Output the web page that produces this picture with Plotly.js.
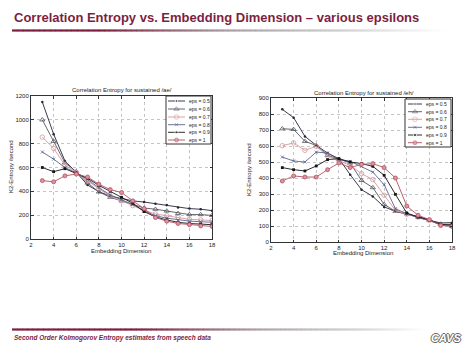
<!DOCTYPE html>
<html><head><meta charset="utf-8">
<script src="https://cdn.plot.ly/plotly-3.0.1.min.js"></script>
<style>html,body{margin:0;padding:0;background:#fff}#chart{width:474px;height:355px}</style>
</head><body><div id="chart"></div>
<script>
// ---- data ----
const dims = [3,4,5,6,7,8,9,10,11,12,13,14,15,16,17,18];
const epsLabels = ['eps = 0.5','eps = 0.6','eps = 0.7','eps = 0.8','eps = 0.9','eps = 1'];
// sustained /ae/
const ae05 = [1150, 880, 655, 560, 453, 397, 360, 340, 320, 310, 295, 285, 265, 255, 250, 238];
const ae06 = [1000, 820, 640, 565, 470, 395, 350, 320, 290, 260, 250, 235, 215, 205, 205, 198];
const ae07 = [855, 760, 620, 560, 490, 420, 360, 320, 280, 240, 210, 195, 180, 165, 160, 155];
const ae08 = [730, 670, 600, 555, 500, 430, 370, 330, 290, 235, 195, 175, 160, 150, 145, 140];
const ae09 = [600, 565, 590, 550, 510, 450, 400, 350, 300, 230, 185, 160, 140, 130, 125, 120];
const ae10 = [490, 480, 530, 545, 520, 460, 415, 390, 320, 255, 180, 150, 130, 120, 110, 105];
// sustained /eh/
const eh05 = [829, 777, 660, 604, 556, 521, 421, 327, 285, 219, 192, 173, 160, 135, 119, 121];
const eh06 = [708, 704, 629, 604, 542, 517, 494, 385, 340, 235, 192, 177, 156, 135, 110, 98];
const eh07 = [602, 619, 573, 598, 537, 510, 479, 427, 390, 292, 198, 173, 156, 135, 104, 100];
const eh08 = [531, 506, 500, 562, 556, 515, 504, 473, 437, 358, 208, 177, 152, 135, 110, 100];
const eh09 = [465, 452, 444, 475, 515, 521, 500, 490, 473, 417, 298, 181, 156, 140, 110, 110];
const eh10 = [381, 413, 406, 406, 452, 494, 465, 485, 490, 465, 400, 225, 167, 140, 104, 98];
const xTicks = [2,4,6,8,10,12,14,16,18];

// ---- styles ----
const styles = [
  {color:'#262638', marker:{symbol:'circle', size:2.5, color:'#262638'}},
  {color:'#55555f', marker:{symbol:'triangle-up-open', size:4.5, color:'#55555f', line:{width:0.8}}},
  {color:'#d39a9c', marker:{symbol:'circle-open', size:4.5, color:'#d39a9c', line:{width:0.8}}},
  {color:'#5a6390', marker:{symbol:'x-thin-open', size:3, color:'#5a6390', line:{width:0.8, color:'#5a6390'}}},
  {color:'#151515', marker:{symbol:'square', size:2.8, color:'#151515'}},
  {color:'#b3505f', marker:{symbol:'circle', size:4, color:'#dc94a0', line:{width:0.8, color:'#b3505f'}}}
];
const aeSeries = [ae05, ae06, ae07, ae08, ae09, ae10];
const ehSeries = [eh05, eh06, eh07, eh08, eh09, eh10];

const traces = [];
aeSeries.forEach((ys,i)=>traces.push({x:dims, y:ys, xaxis:'x', yaxis:'y', mode:'lines+markers', name:epsLabels[i],
  line:{color:styles[i].color, width:0.9}, marker:styles[i].marker, showlegend:false, hoverinfo:'skip'}));
ehSeries.forEach((ys,i)=>traces.push({x:dims, y:ys, xaxis:'x2', yaxis:'y2', mode:'lines+markers', name:epsLabels[i],
  line:{color:styles[i].color, width:0.9}, marker:styles[i].marker, showlegend:false, hoverinfo:'skip'}));

// custom compact legends drawn in a pixel overlay axis (x3/y3)
const legends = [
  {box:[166,211,96,144], rows:[101,109,117,124.7,132.3,140], lx:[168,185], tx:187},
  {box:[405,451,99,147], rows:[104,111.7,119.3,127.3,135,142.7], lx:[408,422], tx:424}
];
const shapes = [];
const annotations = [];
legends.forEach(L=>{
  shapes.push({type:'rect', xref:'x3', yref:'y3', x0:L.box[0], x1:L.box[1], y0:L.box[2], y1:L.box[3],
    fillcolor:'#fff', line:{color:'#333', width:1}, layer:'below'});
  epsLabels.forEach((lab,i)=>{
    const mid = (L.lx[0]+L.lx[1])/2;
    traces.push({x:[L.lx[0], mid, L.lx[1]], y:[L.rows[i],L.rows[i],L.rows[i]], xaxis:'x3', yaxis:'y3',
      mode:'lines+markers', line:{color:styles[i].color, width:0.9},
      marker:Object.assign({}, styles[i].marker, {size:[0, styles[i].marker.size, 0]}),
      showlegend:false, hoverinfo:'skip', cliponaxis:false});
    annotations.push({xref:'x3', yref:'y3', x:L.tx, y:L.rows[i], text:lab, showarrow:false,
      xanchor:'left', yanchor:'middle', font:{family:'Liberation Sans, Arial, sans-serif', size:5, color:'#222'}});
  });
});

// gradient rules
function grad(x0, x1, y, stops){
  const N = 80;
  for(let k=0;k<N;k++){
    const t = (k+0.5)/N;
    let a=stops[0], b=stops[stops.length-1];
    for(let s=0;s<stops.length-1;s++){ if(t>=stops[s][0] && t<=stops[s+1][0]){a=stops[s]; b=stops[s+1]; break;} }
    const u = (t-a[0])/((b[0]-a[0])||1);
    const c = [0,1,2].map(j=>Math.round(a[1][j]+(b[1][j]-a[1][j])*u));
    shapes.push({type:'line', xref:'x3', yref:'y3', x0:x0+(x1-x0)*k/N, x1:x0+(x1-x0)*(k+1)/N+0.5, y0:y, y1:y,
      line:{color:'rgb('+c.join(',')+')', width:2.2}, layer:'above'});
  }
}
const maroon = [125,30,62];
grad(12, 445, 30.5, [[0,maroon],[0.2,maroon],[0.5,[170,160,165]],[0.75,[205,205,205]],[1,[255,255,255]]]);
grad(12, 425, 329.5, [[0,maroon],[0.3,maroon],[0.6,[175,165,170]],[0.85,[215,215,215]],[1,[255,255,255]]]);

// texts
const tfont = {family:'Liberation Sans, Arial, sans-serif', size:6, color:'#222'};
annotations.push(
  {xref:'x3', yref:'y3', x:12, y:17, text:'<b>Correlation Entropy vs. Embedding Dimension – various epsilons</b>',
    showarrow:false, xanchor:'left', yanchor:'middle', font:{family:'Liberation Sans, Arial, sans-serif', size:13, color:'#7d1f40'}},
  {xref:'x3', yref:'y3', x:12, y:338, text:'<b><i>Second Order Kolmogorov Entropy estimates from speech data</i></b>',
    showarrow:false, xanchor:'left', yanchor:'middle', font:{family:'Liberation Sans, Arial, sans-serif', size:6.5, color:'#7d1f40'}},
  {xref:'x3', yref:'y3', x:446, y:338, text:'<b><i>CAVS</i></b>', showarrow:false, xanchor:'center', yanchor:'middle',
    font:{family:'Liberation Sans, Arial, sans-serif', size:11, color:'#ffffff',
      shadow:'1px 0 0 #666, -1px 0 0 #666, 0 1px 0 #666, 0 -1px 0 #666'}},
  {xref:'x3', yref:'y3', x:122, y:90, text:'Correlation Entropy for sustained /ae/', showarrow:false, xanchor:'center', yanchor:'middle', font:tfont},
  {xref:'x3', yref:'y3', x:364, y:92.5, text:'Correlation Entropy for sustained /eh/', showarrow:false, xanchor:'center', yanchor:'middle', font:tfont},
  {xref:'x3', yref:'y3', x:121, y:250.5, text:'Embedding Dimension', showarrow:false, xanchor:'center', yanchor:'middle', font:tfont},
  {xref:'x3', yref:'y3', x:363, y:253, text:'Embedding Dimension', showarrow:false, xanchor:'center', yanchor:'middle', font:tfont},
  {xref:'x3', yref:'y3', x:11, y:167, text:'K2-Entropy /second', textangle:-90, showarrow:false, xanchor:'center', yanchor:'middle', font:tfont},
  {xref:'x3', yref:'y3', x:249, y:170, text:'K2-Entropy /second', textangle:-90, showarrow:false, xanchor:'center', yanchor:'middle', font:tfont}
);

const W=474, H=355;
const axBase = {showline:true, linecolor:'#333', linewidth:1, mirror:'ticks', ticks:'inside', ticklen:2.5, tickcolor:'#333',
  showgrid:true, gridcolor:'#b5b5b5', griddash:'dot', gridwidth:0.8, zeroline:false,
  tickfont:{family:'Liberation Sans, Arial, sans-serif', size:6, color:'#222'}, fixedrange:true};

const layout = {
  width:W, height:H, margin:{l:0,r:0,t:0,b:0}, paper_bgcolor:'#fff', plot_bgcolor:'rgba(0,0,0,0)',
  font:{family:'Liberation Sans, Arial, sans-serif'}, showlegend:false,
  xaxis:Object.assign({}, axBase, {domain:[31/W, 212/W], range:[2,18], tickvals:xTicks, anchor:'y'}),
  yaxis:Object.assign({}, axBase, {domain:[1-239/H, 1-96/H], range:[0,1200], dtick:200, anchor:'x'}),
  xaxis2:Object.assign({}, axBase, {domain:[271/W, 452/W], range:[2,18], tickvals:xTicks, anchor:'y2'}),
  yaxis2:Object.assign({}, axBase, {domain:[1-242/H, 1-98/H], range:[0,900], dtick:100, anchor:'x2'}),
  xaxis3:{domain:[0,1], range:[0,W], visible:false, anchor:'y3', fixedrange:true},
  yaxis3:{domain:[0,1], range:[H,0], visible:false, anchor:'x3', fixedrange:true},
  shapes:shapes, annotations:annotations
};
Plotly.newPlot('chart', traces, layout, {staticPlot:true, displayModeBar:false});
</script>
</body></html>
